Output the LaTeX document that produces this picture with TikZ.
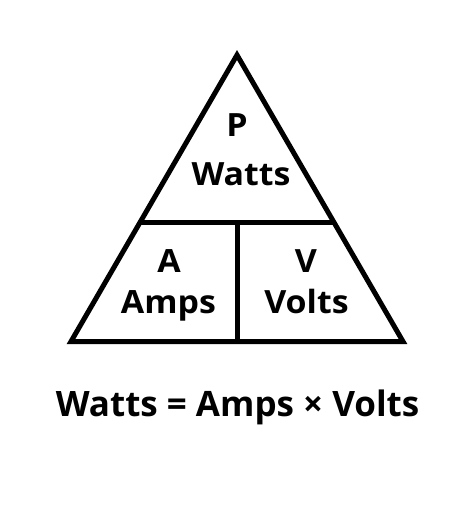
\documentclass[tikz,border=0pt]{standalone}
\usepackage{fontspec}
\setmainfont{Open Sans}
\begin{document}
\begin{tikzpicture}[x=1pt,y=-1pt,
  edge/.style={line width=5pt,line join=miter,line cap=rect},
  lbl/.style={anchor=base,inner sep=0pt,font=\fontsize{32}{32}\selectfont\bfseries},
  formula/.style={anchor=base,inner sep=0pt,font=\fontsize{35}{35}\selectfont\bfseries}]
\useasboundingbox[fill=white] (0,0) rectangle (474,505);
\coordinate (top) at (237,55);
\coordinate (bl) at (71,341.5);
\coordinate (br) at (403,341.5);
\coordinate (ml) at (140,222);
\coordinate (mr) at (334,222);
\coordinate (mm) at (237,222);
\coordinate (bm) at (237,341.5);
\draw[edge] (top) -- (br) -- (bl) -- cycle;
\draw[edge,line cap=butt] (ml) -- (mr);
\draw[edge,line cap=butt] (mm) -- (bm);
\node[lbl] (p) at (237,137) {\scalebox{1.06}[1]{P}};
\node[lbl] (watts) at (241,185) {\scalebox{1.06}[1]{Watts}};
\node[lbl] (a) at (169,272) {\scalebox{1.06}[1]{A}};
\node[lbl] (amps) at (168.5,313) {\scalebox{1.06}[1]{Amps}};
\node[lbl] (v) at (306,272) {\scalebox{1.06}[1]{V}};
\node[lbl] (volts) at (306.5,313) {\scalebox{1.06}[1]{Volts}};
\node[formula] (eq) at (237.5,416.7) {Watts = Amps × Volts};
\end{tikzpicture}
\end{document}
